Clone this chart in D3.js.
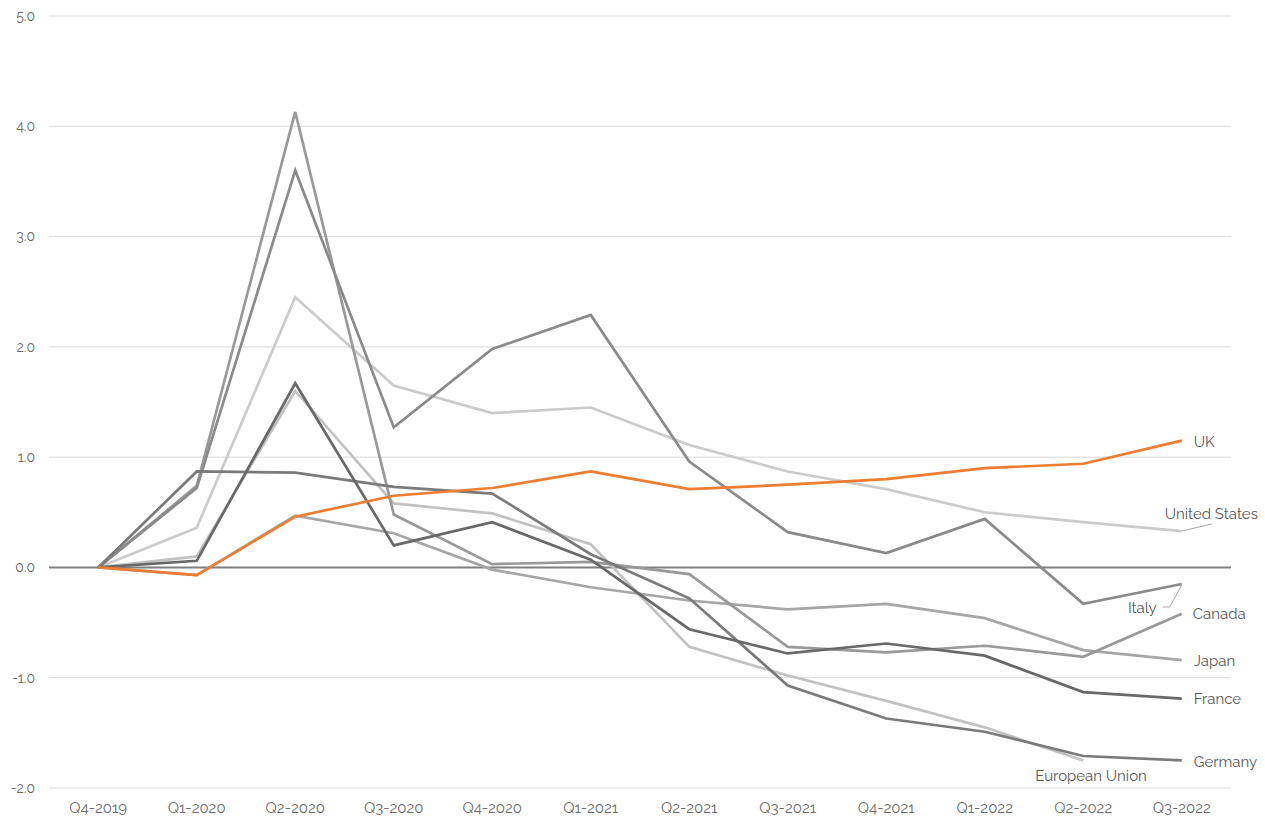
<!DOCTYPE html>
<html>
<head>
<meta charset="utf-8">
<script src="https://cdn.jsdelivr.net/npm/d3@7"></script>
<style>
  body { margin: 0; background: #fff; }
  svg { font-family: Raleway, "Open Sans", Lato, sans-serif; }
</style>
</head>
<body>
<div id="chart"></div>
<script>
// quarters on the x axis
var quarters = ["Q4-2019", "Q1-2020", "Q2-2020", "Q3-2020", "Q4-2020", "Q1-2021",
                "Q2-2021", "Q3-2021", "Q4-2021", "Q1-2022", "Q2-2022", "Q3-2022"];
var yTicks = [-2, -1, 0, 1, 2, 3, 4, 5];

// series values
var usData      = [0, 0.36, 2.45, 1.65, 1.40, 1.45, 1.11, 0.87, 0.71, 0.50, 0.41, 0.33];
var euData      = [0, 0.10, 1.60, 0.58, 0.49, 0.21, -0.72, -0.98, -1.21, -1.45, -1.75, null];
var japanData   = [0, -0.07, 0.47, 0.31, -0.02, -0.18, -0.30, -0.38, -0.33, -0.46, -0.75, -0.84];
var canadaData  = [0, 0.74, 4.13, 0.48, 0.03, 0.05, -0.06, -0.72, -0.77, -0.71, -0.81, -0.42];
var italyData   = [0, 0.72, 3.60, 1.27, 1.98, 2.29, 0.96, 0.32, 0.13, 0.44, -0.33, -0.15];
var germanyData = [0, 0.87, 0.86, 0.73, 0.67, 0.12, -0.28, -1.07, -1.37, -1.49, -1.71, -1.75];
var franceData  = [0, 0.06, 1.67, 0.20, 0.41, 0.07, -0.56, -0.78, -0.69, -0.80, -1.13, -1.19];
var ukData      = [0, -0.07, 0.46, 0.65, 0.72, 0.87, 0.71, 0.75, 0.80, 0.90, 0.94, 1.15];

var series = [
  {name: "United States",  values: usData,      color: "#cbcbcb"},
  {name: "European Union", values: euData,      color: "#c2c2c2"},
  {name: "Japan",          values: japanData,   color: "#a6a6a6"},
  {name: "Canada",         values: canadaData,  color: "#999999"},
  {name: "Italy",          values: italyData,   color: "#8a8a8a"},
  {name: "Germany",        values: germanyData, color: "#7a7a7a"},
  {name: "France",         values: franceData,  color: "#686868"},
  {name: "UK",             values: ukData,      color: "#ed7d31"}
];

var width = 1265, height = 825;
var svg = d3.select("#chart").append("svg")
  .attr("width", width)
  .attr("height", height);

var x = d3.scalePoint()
  .domain(quarters)
  .range([49, 1231])
  .padding(0.5);

var y = d3.scaleLinear()
  .domain([-2, 5])
  .range([788, 16]);

// gridlines
svg.append("g")
  .selectAll("line")
  .data(yTicks.filter(d => d != 0))
  .enter()
  .append("line")
  .attr("x1", 49).attr("x2", 1231)
  .attr("y1", d => y(d)).attr("y2", d => y(d))
  .attr("stroke", "#d9d9d9")
  .attr("stroke-width", 1);

// y axis labels
svg.append("g")
  .selectAll("text")
  .data(yTicks)
  .enter()
  .append("text")
  .attr("x", 35)
  .attr("y", d => y(d))
  .attr("dy", "0.35em")
  .attr("text-anchor", "end")
  .attr("fill", "#6a6a6a")
  .style("font-size", "14px")
  .text(d => d3.format(".1f")(d).replace("−", "-"));

// x axis labels
svg.append("g")
  .selectAll("text")
  .data(quarters)
  .enter()
  .append("text")
  .attr("x", d => x(d))
  .attr("y", 808)
  .attr("dy", "0.35em")
  .attr("text-anchor", "middle")
  .attr("fill", "#6a6a6a")
  .style("font-size", "15px")
  .text(d => d);

// zero line
svg.append("line")
  .attr("x1", 49).attr("x2", 1231)
  .attr("y1", y(0)).attr("y2", y(0))
  .attr("stroke", "#7f7f7f")
  .attr("stroke-width", 2);

var line = d3.line()
  .defined(d => d.v != null)
  .x(d => x(d.q))
  .y(d => y(d.v));

svg.append("g")
  .selectAll("path")
  .data(series)
  .enter()
  .append("path")
  .attr("d", s => line(s.values.map((v, i) => ({q: quarters[i], v: v}))))
  .attr("fill", "none")
  .attr("stroke", s => s.color)
  .attr("stroke-width", 2.7)
  .attr("stroke-linejoin", "miter");

// end labels
function lastPoint(s) {
  for (var i = s.values.length - 1; i >= 0; i--)
    if (s.values[i] != null) return {x: x(quarters[i]), y: y(s.values[i])};
}

var labelOffsets = {
  "UK":             {dx: 12, dy: 1,   anchor: "start"},
  "United States":  {dx: -17, dy: -17, anchor: "start"},
  "Italy":          {dx: -25, dy: 24, anchor: "end"},
  "Canada":         {dx: 11, dy: 0,   anchor: "start"},
  "Japan":          {dx: 12, dy: 1,   anchor: "start"},
  "France":         {dx: 12, dy: 0,   anchor: "start"},
  "Germany":        {dx: 12, dy: 1,   anchor: "start"},
  "European Union": {dx: -48, dy: 15, anchor: "start"}
};

var labels = svg.append("g");
series.forEach(function(s) {
  var p = lastPoint(s);
  var o = labelOffsets[s.name];
  labels.append("text")
    .attr("x", p.x + o.dx)
    .attr("y", p.y + o.dy)
    .attr("dy", "0.35em")
    .attr("text-anchor", o.anchor)
    .attr("fill", "#595959")
    .style("font-size", "15px")
    .text(s.name);
});

// leader lines for United States and Italy
var usEnd = lastPoint(series[0]);
labels.append("polyline")
  .attr("points", [[usEnd.x, usEnd.y], [usEnd.x + 30, usEnd.y - 7]].join(" "))
  .attr("fill", "none").attr("stroke", "#a6a6a6").attr("stroke-width", 1);
var itEnd = lastPoint(series[4]);
labels.append("polyline")
  .attr("points", [[itEnd.x, itEnd.y + 1], [itEnd.x - 12, itEnd.y + 23], [itEnd.x - 19, itEnd.y + 23]].join(" "))
  .attr("fill", "none").attr("stroke", "#a6a6a6").attr("stroke-width", 1);
</script>
</body>
</html>
